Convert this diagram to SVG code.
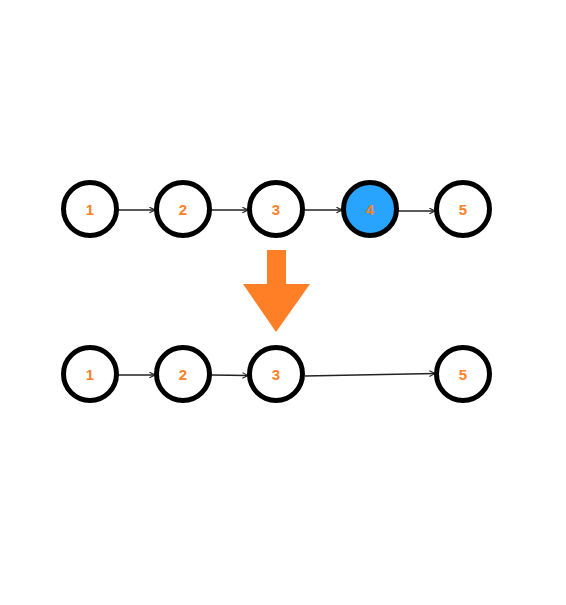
<svg xmlns="http://www.w3.org/2000/svg" width="566" height="605" viewBox="0 0 566 605">
<style>
.n{fill:#fff;stroke:#000;stroke-width:5}
.hl{fill:#28a4ff}
.t{font-family:"Liberation Sans",Arial,sans-serif;font-weight:bold;font-size:15px;fill:#ff8026;text-anchor:middle;dominant-baseline:central}
.e{stroke:#222;stroke-width:1.3;fill:none;marker-end:url(#ah)}
</style>
<defs>
<marker id="ah" viewBox="0 0 10 10" refX="9" refY="5" markerWidth="7" markerHeight="7" markerUnits="userSpaceOnUse" orient="auto">
<path d="M1,1 L9,5 L1,9" fill="none" stroke="#222" stroke-width="1.6"/>
</marker>
</defs>
<rect width="566" height="605" fill="#fff"/>
<g id="edges">
<line class="e" x1="118" y1="210" x2="155" y2="210"/>
<line class="e" x1="211" y1="210" x2="248" y2="210"/>
<line class="e" x1="305" y1="210" x2="342" y2="210"/>
<line class="e" x1="398" y1="211" x2="435" y2="211"/>
<line class="e" x1="118" y1="375" x2="155" y2="375"/>
<line class="e" x1="211" y1="375" x2="248" y2="375.5"/>
<line class="e" x1="305" y1="376" x2="435" y2="373.5"/>
</g>
<g id="arrow-down">
<polygon points="267,250 286,250 286,284 310,284 276,332 243,284 267,284" fill="#ff7f27"/>
</g>
<g id="top-1"><circle class="n" cx="90" cy="209" r="26.5"/><text class="t" x="90" y="209">1</text></g>
<g id="top-2"><circle class="n" cx="183" cy="209" r="26.5"/><text class="t" x="183" y="209">2</text></g>
<g id="top-3"><circle class="n" cx="276" cy="209" r="26.5"/><text class="t" x="276" y="209">3</text></g>
<g id="top-4"><circle class="n hl" cx="370" cy="209" r="26.5"/><text class="t" x="370" y="209">4</text></g>
<g id="top-5"><circle class="n" cx="463" cy="209" r="26.5"/><text class="t" x="463" y="209">5</text></g>
<g id="bot-1"><circle class="n" cx="90" cy="374" r="26.5"/><text class="t" x="90" y="374">1</text></g>
<g id="bot-2"><circle class="n" cx="183" cy="374" r="26.5"/><text class="t" x="183" y="374">2</text></g>
<g id="bot-3"><circle class="n" cx="276" cy="374" r="26.5"/><text class="t" x="276" y="374">3</text></g>
<g id="bot-5"><circle class="n" cx="463" cy="374" r="26.5"/><text class="t" x="463" y="374">5</text></g>
</svg>
